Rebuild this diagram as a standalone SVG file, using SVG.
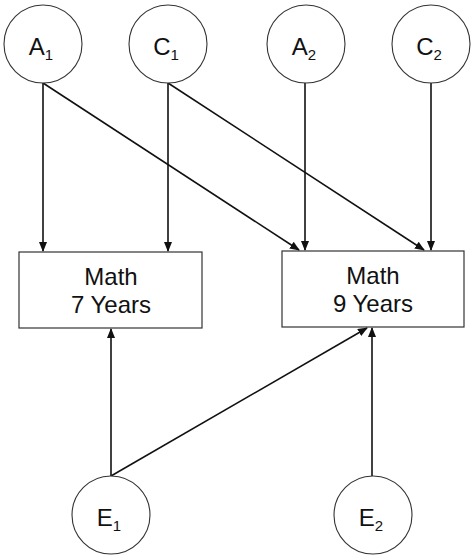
<svg xmlns="http://www.w3.org/2000/svg" width="474" height="557" viewBox="0 0 474 557">
<style>
.c{fill:#fff;stroke:#333;stroke-width:1.1}
.b{fill:#fff;stroke:#333;stroke-width:1.2}
.t{font-family:"Liberation Sans",Arial,sans-serif;font-size:24px;fill:#111;text-anchor:middle}
.s{font-size:15px}
.e{stroke:#111;stroke-width:1.6;fill:none;marker-end:url(#ah)}
</style>
<defs>
<marker id="ah" markerWidth="10" markerHeight="8" refX="9" refY="4" orient="auto" markerUnits="userSpaceOnUse">
<path d="M0,0 L10,4 L0,8 Z" fill="#111"/>
</marker>
</defs>
<rect width="474" height="557" fill="#fff"/>
<g id="connectors">
<line class="e" x1="43" y1="83" x2="43" y2="251"/>
<line class="e" x1="43" y1="83" x2="299" y2="250"/>
<line class="e" x1="168" y1="83" x2="168" y2="251"/>
<line class="e" x1="168" y1="83" x2="424" y2="250"/>
<line class="e" x1="305" y1="83" x2="305" y2="250"/>
<line class="e" x1="431" y1="83" x2="431" y2="250"/>
<line class="e" x1="111" y1="476" x2="111" y2="329"/>
<line class="e" x1="111" y1="476" x2="367" y2="328"/>
<line class="e" x1="372" y1="476" x2="372" y2="328"/>
</g>
<g id="A1"><circle class="c" cx="43" cy="44" r="39"/><text class="t" x="41" y="55">A<tspan class="s" dy="5">1</tspan></text></g>
<g id="C1"><circle class="c" cx="168" cy="44" r="39"/><text class="t" x="166" y="55">C<tspan class="s" dy="5">1</tspan></text></g>
<g id="A2"><circle class="c" cx="306" cy="44" r="39"/><text class="t" x="304" y="55">A<tspan class="s" dy="5">2</tspan></text></g>
<g id="C2"><circle class="c" cx="431" cy="44" r="39"/><text class="t" x="429" y="55">C<tspan class="s" dy="5">2</tspan></text></g>
<g id="math7"><rect class="b" x="19" y="252" width="183" height="76"/><text class="t" x="111" y="285">Math</text><text class="t" x="111" y="313">7 Years</text></g>
<g id="math9"><rect class="b" x="282" y="251" width="182" height="76"/><text class="t" x="373" y="284">Math</text><text class="t" x="373" y="312">9 Years</text></g>
<g id="E1"><circle class="c" cx="111" cy="515" r="39"/><text class="t" x="109" y="526">E<tspan class="s" dy="5">1</tspan></text></g>
<g id="E2"><circle class="c" cx="373" cy="515" r="39"/><text class="t" x="371" y="526">E<tspan class="s" dy="5">2</tspan></text></g>
</svg>
